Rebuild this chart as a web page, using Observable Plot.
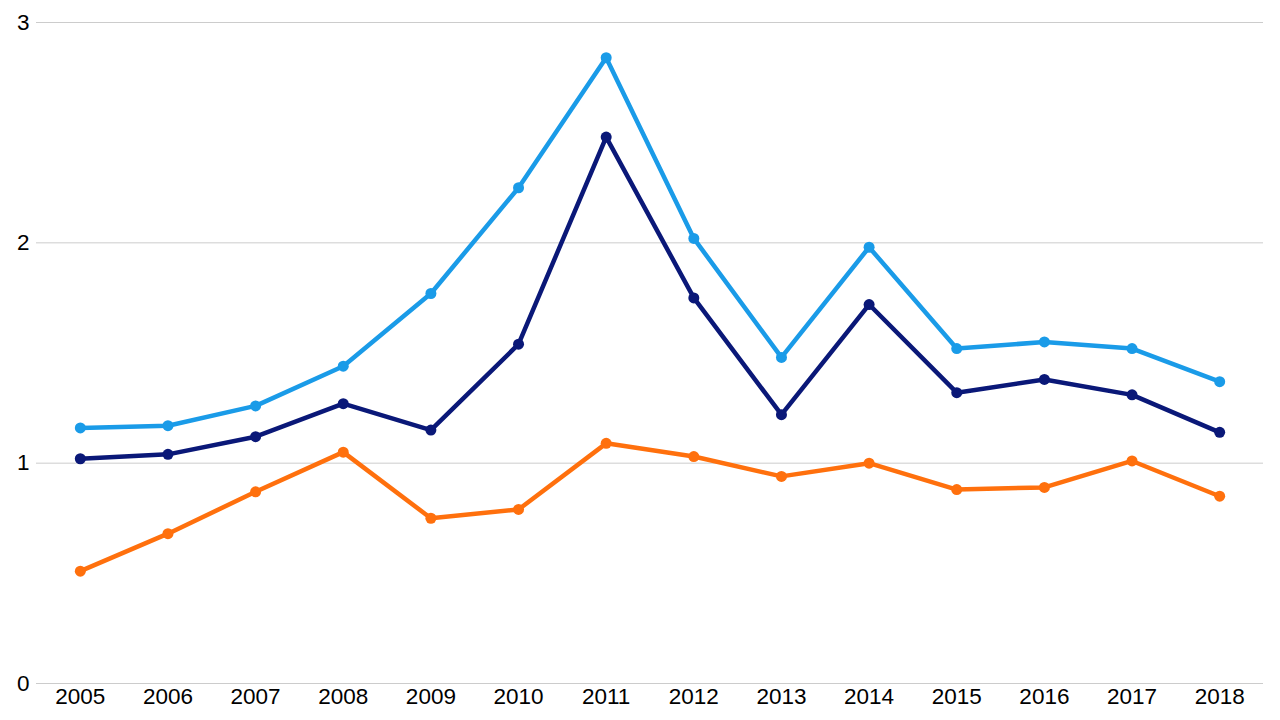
<!DOCTYPE html>
<html>
<head>
<meta charset="utf-8">
<script src="https://cdn.jsdelivr.net/npm/d3@7"></script>
<script src="https://cdn.jsdelivr.net/npm/@observablehq/plot@0.6"></script>
<style>
  html, body { margin: 0; padding: 0; background: #fff; }
  #chart svg { display: block; }
  #chart svg text { font-family: "Liberation Sans", Arial, sans-serif; font-size: 22.5px; fill: #000; }
</style>
</head>
<body>
<div id="chart"></div>
<script>
const years = [2005, 2006, 2007, 2008, 2009, 2010, 2011, 2012, 2013, 2014, 2015, 2016, 2017, 2018];
const seriesNames = ["A", "B", "C"];
const seriesA = [1.16, 1.17, 1.26, 1.44, 1.77, 2.25, 2.84, 2.02, 1.48, 1.98, 1.52, 1.55, 1.52, 1.37];
const seriesB = [1.02, 1.04, 1.12, 1.27, 1.15, 1.54, 2.48, 1.75, 1.22, 1.72, 1.32, 1.38, 1.31, 1.14];
const seriesC = [0.51, 0.68, 0.87, 1.05, 0.75, 0.79, 1.09, 1.03, 0.94, 1.00, 0.88, 0.89, 1.01, 0.85];
const colors = ["#1a9be8", "#0a1878", "#ff700d"];
const yTicks = [0, 1, 2, 3];

const rows = [];
[seriesA, seriesB, seriesC].forEach((vals, i) => {
  vals.forEach((v, j) => rows.push({series: seriesNames[i], year: String(years[j]), value: v}));
});

const chart = Plot.plot({
  width: 1280,
  height: 720,
  marginLeft: 36,
  marginRight: 17,
  marginTop: 22,
  marginBottom: 37,
  style: {fontFamily: "'Liberation Sans', Arial, sans-serif", fontSize: "22px", color: "#000"},
  x: {type: "point", domain: years.map(String), padding: 0.5, round: false, label: null},
  y: {domain: [0, 3], ticks: yTicks, label: null},
  color: {domain: seriesNames, range: colors},
  marks: [
    Plot.ruleY(yTicks, {stroke: "#cccccc", strokeWidth: 1}),
    Plot.axisY({ticks: yTicks, tickSize: 0, tickPadding: 7, tickFormat: d3.format("d"), fontSize: 22, fill: "#000"}),
    Plot.axisX({tickSize: 0, tickPadding: 5, fontSize: 22, fill: "#000"}),
    Plot.line(rows, {x: "year", y: "value", z: "series", stroke: "series", strokeWidth: 4.5, strokeLinejoin: "round", strokeLinecap: "round"}),
    Plot.dot(rows, {x: "year", y: "value", fill: "series", r: 5.5})
  ]
});
document.getElementById("chart").appendChild(chart);
</script>
</body>
</html>
